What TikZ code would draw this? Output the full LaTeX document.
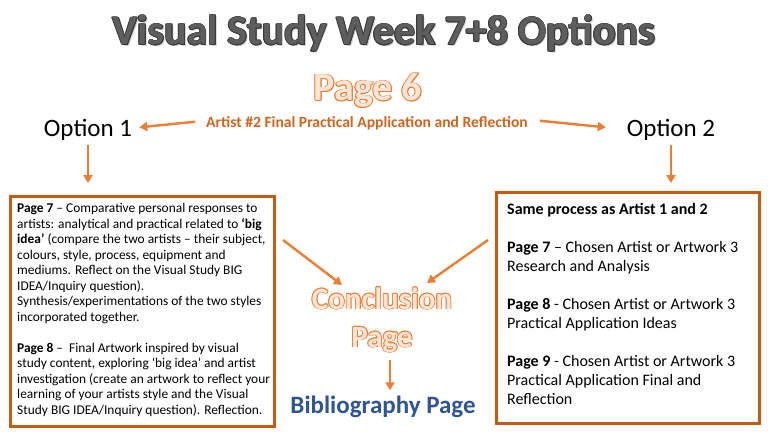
\documentclass[tikz,border=0pt]{standalone}
\usepackage{fontspec}
\setmainfont{Carlito}
\usetikzlibrary{arrows.meta}
\definecolor{arr}{HTML}{ED7D31}
\definecolor{boxc}{HTML}{C55A11}
\definecolor{subc}{HTML}{D2651E}
\definecolor{lite}{HTML}{FCE4D6}
\definecolor{bib}{HTML}{2F5597}
\definecolor{ttlfill}{HTML}{5E5E5E}
\definecolor{ttlline}{HTML}{3A3A3A}
\newcommand\outlinetxt[6]{%
  \foreach \ang in {0,45,...,315}
    \node[font=#2, text=#3, align=center, inner sep=0, anchor=#5] at (#1) [shift={(\ang:#6)}] {#4};
}
\begin{document}
\begin{tikzpicture}[x=1pt,y=-1pt,
  arrow/.style={draw=arr, line width=2.4pt, -{Triangle[length=8pt,width=9pt]}},
  panel/.style={draw=boxc, line width=3pt, fill=white, inner sep=0, anchor=north west},
  bodytext/.style={align=left, inner sep=0, anchor=north west},
  plain/.style={inner sep=0, anchor=base}]
\useasboundingbox[fill=white] (0,0) rectangle (768,433);

% title
\node[plain, font=\bfseries\fontsize{42}{48}\selectfont, text=gray!35] at (385.5,46.5) {Visual Study Week 7+8 Options};
\outlinetxt{384,45}{\bfseries\fontsize{42}{48}\selectfont}{ttlline}{Visual Study Week 7+8 Options}{base}{0.8}
\node[plain, font=\bfseries\fontsize{42}{48}\selectfont, text=ttlfill] (title) at (384,45) {Visual Study Week 7+8 Options};

% page 6
\outlinetxt{368,101}{\bfseries\fontsize{40}{46}\selectfont}{arr}{Page 6}{base}{0.9}
\node[plain, font=\bfseries\fontsize{40}{46}\selectfont, text=lite] (p6) at (368,101) {Page 6};

\node[plain, font=\bfseries\fontsize{15.6}{18}\selectfont, text=subc] (art) at (367,128) {Artist \#2 Final Practical Application and Reflection};

\node[plain, font=\fontsize{25}{30}\selectfont] (opt1) at (88,136) {Option 1};
\node[plain, font=\fontsize{25}{30}\selectfont] (opt2) at (671,136) {Option 2};

% boxes
\node[panel, minimum width=264pt, minimum height=230pt] (left) at (9,195) {};
\node[panel, minimum width=263pt, minimum height=231pt] (right) at (495,191) {};

\node[bodytext, font=\fontsize{13.4}{15.5}\selectfont] (ltext) at (17,203) {%
{\bfseries Page 7} – Comparative personal responses to\\
artists: analytical and practical related to \textbf{‘big}\\
\textbf{idea’} (compare the two artists – their subject,\\
colours, style, process, equipment and\\
mediums. Reflect on the Visual Study BIG\\
IDEA/Inquiry question).\\
Synthesis/experimentations of the two styles\\
incorporated together.\\[15.5pt]
{\bfseries Page 8} –\ \ Final Artwork inspired by visual\\
study content, exploring ‘big idea’ and artist\\
investigation (create an artwork to reflect your\\
learning of your artists style and the Visual\\
Study BIG IDEA/Inquiry question). Reflection.};

\node[bodytext, font=\fontsize{16}{19}\selectfont] (rtext) at (507,203) {%
\textbf{Same process as Artist 1 and 2}\\[19pt]
\textbf{Page 7} – Chosen Artist or Artwork 3\\
Research and Analysis\\[19pt]
\textbf{Page 8} - Chosen Artist or Artwork 3\\
Practical Application Ideas\\[19pt]
\textbf{Page 9} - Chosen Artist or Artwork 3\\
Practical Application Final and\\
Reflection};

% conclusion
\outlinetxt{382,347}{\bfseries\fontsize{31}{38}\selectfont}{arr}{Conclusion\\Page}{base}{0.9}
\node[plain, align=center, font=\bfseries\fontsize{31}{38}\selectfont, text=lite] (conc) at (382,347) {Conclusion\\Page};

\node[plain, font=\bfseries\fontsize{25}{30}\selectfont, text=bib] (bibl) at (383,413) {Bibliography Page};

% connectors
\coordinate (cl) at (342,285);
\coordinate (cr) at (427,283);
\coordinate (cb) at (390,360);
\draw[arrow] ([xshift=-11pt,yshift=2pt]art.west) -- ([xshift=7pt,yshift=2pt]opt1.east);
\draw[arrow] ([xshift=12pt,yshift=3pt]art.east) -- ([xshift=-21pt,yshift=2pt]opt2.west);
\draw[arrow, shorten <=5pt, shorten >=12pt] (opt1.south) -- (opt1.south |- left.north);
\draw[arrow, shorten <=5pt, shorten >=8pt] (opt2.south) -- (opt2.south |- right.north);
\draw[arrow] ([shift={(7,45)}]left.north east) -- (cl);
\draw[arrow] ([shift={(-7,49)}]right.north west) -- (cr);
\draw[arrow, shorten >=5pt] (cb) -- (cb |- bibl.north);
\end{tikzpicture}
\end{document}
